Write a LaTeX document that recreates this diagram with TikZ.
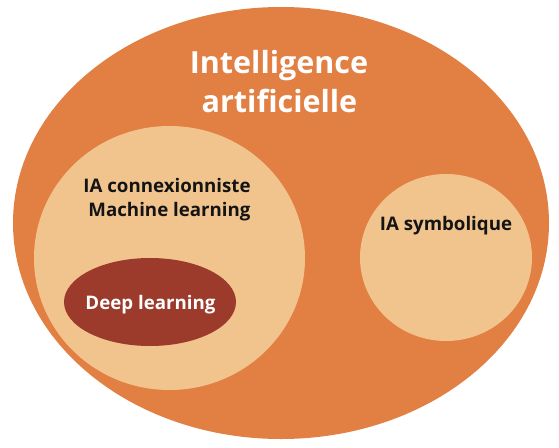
\documentclass[tikz,border=0pt]{standalone}
\usepackage{fontspec}
\setmainfont{Open Sans}
\usetikzlibrary{shapes.geometric}
\definecolor{aiorange}{HTML}{E27F43}
\definecolor{aipeach}{HTML}{F1C48E}
\definecolor{aired}{HTML}{9C3A2C}
\definecolor{aiink}{HTML}{141414}
\tikzset{
  blob/.style={ellipse, draw=none, inner sep=0pt},
  lbl/.style={anchor=base, inner sep=0pt, font=\bfseries\fontsize{18.7}{22}\selectfont},
  ttl/.style={anchor=base, inner sep=0pt, text=white, font=\bfseries\fontsize{30.5}{36}\selectfont}
}
\begin{document}
\begin{tikzpicture}[x=1pt,y=-1pt]
\useasboundingbox (0,0) rectangle (559,447);
\node[blob, fill=aiorange, minimum width=536pt, minimum height=432pt] (ia) at (281,223) {};
\node[blob, fill=aipeach, minimum width=271pt, minimum height=264pt] (conn) at (169.5,258) {};
\node[blob, fill=aipeach, minimum width=172pt, minimum height=167pt] (symb) at (446,257.5) {};
\node[blob, fill=aired, minimum width=172pt, minimum height=88pt] (deep) at (150,302) {};
\node[ttl] (t1) at (279,73) {Intelligence};
\node[ttl] (t2) at (279.5,112) {artificielle};
\node[lbl, text=aiink] (c1) at (167,192) {IA connexionniste};
\node[lbl, text=aiink] (c2) at (169.5,216) {Machine learning};
\node[lbl, text=aiink] (s1) at (446,230) {IA symbolique};
\node[lbl, text=white] (d1) at (150.5,309) {Deep learning};
\end{tikzpicture}
\end{document}
